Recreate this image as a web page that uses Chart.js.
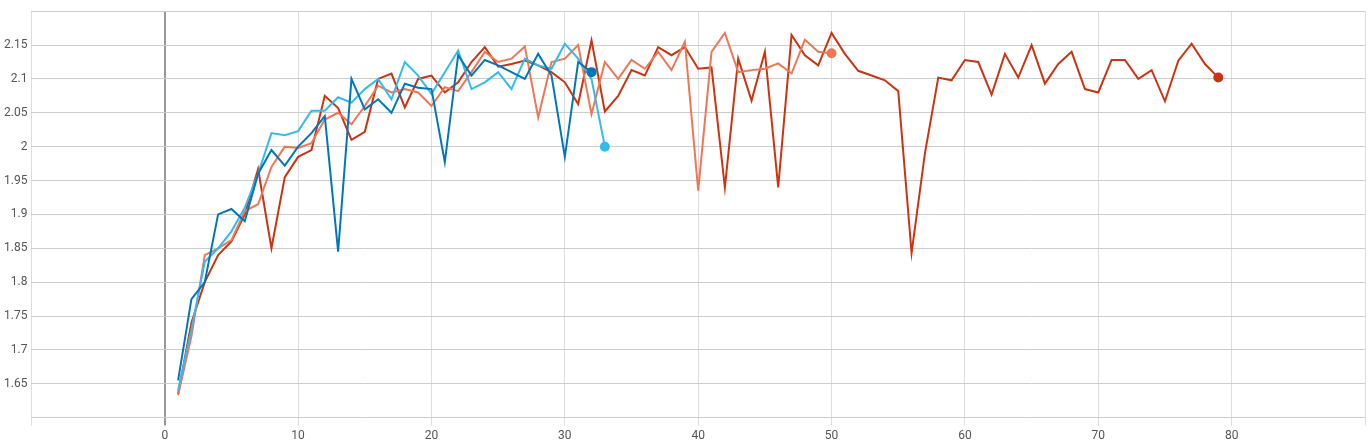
<!DOCTYPE html><html><head><meta charset="utf-8">
<script src="https://cdn.jsdelivr.net/npm/chart.js@4/dist/chart.umd.min.js"></script>
<style>html,body{margin:0;padding:0;background:#fff}#w{width:1371px;height:446px}</style></head><body><div id="w"><canvas id="c"></canvas></div>
<script>
const darkBlue=[1.655,1.775,1.80,1.90,1.908,1.89,1.96,1.995,1.972,2.0,2.02,2.045,1.845,2.10,2.055,2.07,2.05,2.093,2.087,2.085,1.977,2.135,2.105,2.128,2.12,2.11,2.10,2.137,2.105,1.985,2.125,2.11];
const lightBlue=[1.64,1.73,1.83,1.85,1.875,1.91,1.96,2.02,2.017,2.023,2.053,2.053,2.073,2.065,2.085,2.10,2.07,2.125,2.105,2.078,2.11,2.142,2.085,2.095,2.11,2.085,2.13,2.12,2.115,2.152,2.13,2.10,2.0];
const orange=[1.633,1.72,1.84,1.85,1.862,1.905,1.915,1.97,2.0,1.998,2.005,2.04,2.05,2.033,2.06,2.09,2.08,2.085,2.08,2.06,2.088,2.082,2.11,2.14,2.125,2.13,2.148,2.043,2.125,2.13,2.15,2.048,2.125,2.10,2.128,2.115,2.14,2.113,2.155,1.935,2.14,2.168,2.11,2.113,2.115,2.123,2.108,2.158,2.14,2.138];
const red=[1.635,1.74,1.80,1.84,1.86,1.90,1.967,1.85,1.955,1.985,1.995,2.075,2.057,2.01,2.022,2.10,2.108,2.058,2.10,2.105,2.08,2.095,2.125,2.147,2.118,2.122,2.127,2.12,2.11,2.095,2.063,2.157,2.052,2.075,2.113,2.105,2.147,2.135,2.147,2.115,2.117,1.94,2.13,2.068,2.14,1.94,2.165,2.135,2.12,2.168,2.137,2.112,2.105,2.098,2.082,1.843,1.99,2.102,2.098,2.128,2.125,2.077,2.137,2.102,2.15,2.093,2.122,2.14,2.085,2.08,2.128,2.128,2.10,2.113,2.067,2.127,2.152,2.122,2.102];
const xTicks=[0,10,20,30,40,50,60,70,80];
function ds(arr,color){return{data:arr.map((v,i)=>({x:i+1,y:v})),borderColor:color,backgroundColor:color,borderWidth:2,tension:0,pointRadius:c=>c.dataIndex===arr.length-1?4:0,pointHoverRadius:0};}
new Chart(document.getElementById('c'),{type:'line',data:{datasets:[ds(red,'#cc3311'),ds(orange,'#ee7755'),ds(lightBlue,'#33bbee'),ds(darkBlue,'#0077bb')].reverse()},
options:{responsive:true,maintainAspectRatio:false,animation:false,layout:{padding:{left:0,right:3,top:7,bottom:0}},
plugins:{legend:{display:false},tooltip:{enabled:false}},
scales:{x:{type:'linear',min:-10,max:90,afterBuildTicks:a=>{a.ticks=[-10,...xTicks,90].map(v=>({value:v}));},
ticks:{callback:v=>xTicks.includes(v)?String(v):'',color:'#555',font:{family:'Roboto',size:12},maxRotation:0,autoSkip:false},
grid:{color:c=>c.tick&&c.tick.value===0?'#999':'#ddd',lineWidth:c=>c.tick&&c.tick.value===0?2:1,tickLength:8},border:{display:false}},
y:{min:1.6,max:2.2,afterBuildTicks:a=>{const t=[];for(let i=0;i<=12;i++)t.push({value:+(1.6+i*0.05).toFixed(2)});a.ticks=t;},
ticks:{callback:v=>(v<1.62||v>2.18)?'':String(+v.toFixed(2)),color:'#555',font:{family:'Roboto',size:12},padding:4},
grid:{color:'#ccc',drawTicks:false},border:{display:false}}}}});
</script></body></html>
